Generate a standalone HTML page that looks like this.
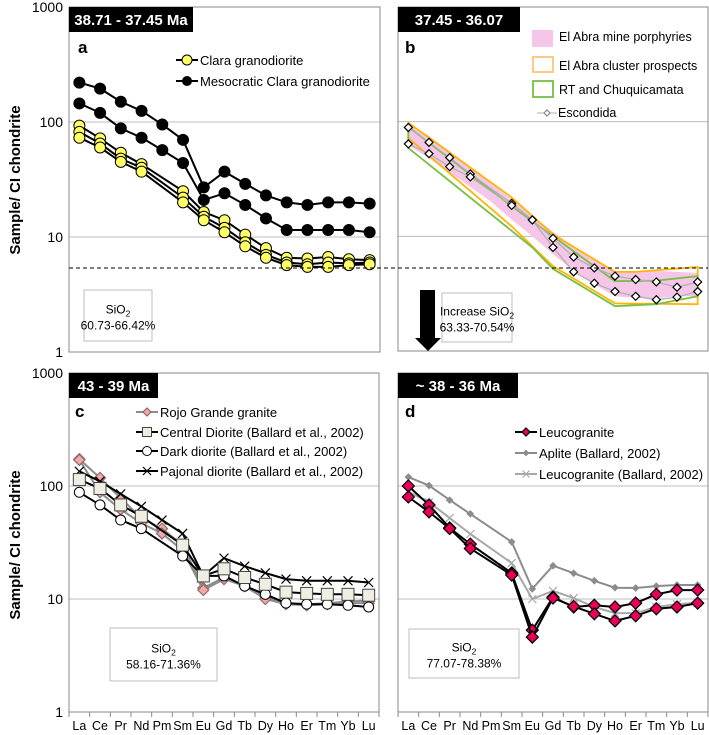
<!DOCTYPE html>
<html><head><meta charset="utf-8"><style>
body{margin:0;background:#fff;width:709px;height:735px;overflow:hidden}
svg{display:block;font-family:"Liberation Sans",sans-serif}
</style></head><body>
<svg id="chart" width="709" height="735"></svg>
<script>
const categories=["La","Ce","Pr","Nd","Pm","Sm","Eu","Gd","Tb","Dy","Ho","Er","Tm","Yb","Lu"];
const yTicks=[1,10,100,1000];
const yTickLabels=["1","10","100","1000"];
// Panel a
const aMeso1=[220,195,150,125,95,70,27,37,29,23,20,19,20,20,19.5];
const aMeso2=[145,120,88,73,57,44,21,24,19,14.5,11.5,11.5,11.5,11.5,11];
const aClara1=[93,72,54,43,null,25,16.5,14,10.5,8,6.6,6.5,6.7,6.4,6.3];
const aClara2=[82,65,48,40,null,22,15,12,9,7,6,5.8,6,5.9,6];
const aClara3=[73,60,45,37,null,20,14,11,8.3,6.6,5.7,5.5,5.5,5.7,5.8];
// Panel b
const bEsc1=[89,66,48.6,35,null,19.4,13.9,9.6,6.6,5.3,4.5,4.2,4.0,3.6,4.0];
const bEsc2=[64,52.6,40.5,33,null,18.6,13.9,8.0,4.9,3.9,3.3,3.0,2.8,2.95,3.3];
const bPinkUpper=[97,75,55,40,29,21,15,11,8,6.3,5,4.9,5,4.9,4.8];
const bPinkLower=[62,48,36,27,20,14,10,7,5,3.8,3,2.9,2.9,3,3];
const bOrangeUpper=[98,null,null,null,null,21.8,null,10.4,null,null,4.9,4.9,null,null,5.4];
const bOrangeLower=[72,null,null,null,null,12.2,null,5.5,null,null,2.6,null,null,null,2.56];
const bGreenUpper=[90,null,null,null,null,18.3,null,10,null,null,4.06,null,4.1,null,4.5];
const bGreenLower=[59,null,null,null,null,null,8,5.2,null,null,2.46,null,2.56,null,3.0];
// Panel c
const cRojo1=[173,118,78,52,42,30,12.5,15.5,13,10.5,9.2,9,9.2,9.5,9.7];
const cRojo2=[170,88,62,47,38,27,12,15,13,10,9,8.8,9,9.2,9.2];
const cCentral=[114,95,68,54,null,30,16,18.5,15.5,13.5,11.5,11.2,11,11,10.8];
const cDark=[88,68,50,42,null,24,16,16,13,11,9.2,9,9,8.8,8.5];
const cPajonal=[135,110,85,66,50,38,16,23,19.5,17,15,14.5,14.5,14.5,14];
// Panel d
const dAplite=[120,101,75,56.6,null,32,12.3,19.7,16.9,14.5,12.6,12.5,13,13.3,13.3];
const dLeucoB=[89,72,52,37.6,null,20.8,10,11.8,10.2,8.5,7.5,7.5,8.5,9,9.3];
const dLeuco1=[100,68,42.6,30.6,null,17,5.3,10.4,8.5,8.8,8.5,9.2,11,12,12];
const dLeuco2=[80,59,42,28,null,16.3,4.6,10.2,8.6,7.4,6.4,7.1,8.2,8.5,9.2];

const NS="http://www.w3.org/2000/svg";
const svg=document.getElementById('chart');
function el(tag,attrs,parent){const e=document.createElementNS(NS,tag);for(const k in attrs)e.setAttribute(k,attrs[k]);(parent||svg).appendChild(e);return e;}
function txt(x,y,s,attrs,parent){const t=el('text',Object.assign({x:x,y:y},attrs||{}),parent);t.textContent=s;return t;}

function makePanel(p){
  const g=el('g',{});
  
  
  const bw=(p.right-p.left)/categories.length;
  p.x=i=>p.left+bw*(i+0.5);
  p.y=v=>p.bottom-(Math.log10(v))*(p.bottom-p.top)/3;
  yTicks.forEach((t,i)=>{
    if(t>1&&t<1000){const l=el('line',{x1:p.left,x2:p.right,y1:p.y(t),y2:p.y(t),stroke:'#bdbdbd','stroke-width':1},g);
      }
    if(p.yLabels){const tl=txt(p.left-6,p.y(t)+5,yTickLabels[i],{'text-anchor':'end','font-size':14,fill:'#000'},g);
      }
  });
  const fr=el('rect',{x:p.left,y:p.top,width:p.right-p.left,height:p.bottom-p.top,fill:'none',stroke:'#8a8a8a','stroke-width':1},g);
  
  if(p.xLabels){
    for(let i=0;i<=categories.length;i++){el('line',{x1:p.left+bw*i,x2:p.left+bw*i,y1:p.bottom,y2:p.bottom+5,stroke:'#8a8a8a'},g);}
    categories.forEach((c,i)=>{const t=txt(p.x(i),p.bottom+18,c,{'text-anchor':'middle','font-size':12.5,fill:'#000'},g);
      });
  }
  p.g=g;return p;
}
function pathFrom(p,arr){let d='';arr.forEach((v,i)=>{if(v==null)return;d+=(d?'L':'M')+p.x(i).toFixed(1)+','+p.y(v).toFixed(1);});return d;}
function marker(g,type,x,y,fill,stroke,size){
  if(type==='circle')return el('circle',{cx:x,cy:y,r:size,fill:fill,stroke:stroke,'stroke-width':1},g);
  if(type==='diamond')return el('path',{d:`M${x},${y-size}L${x+size},${y}L${x},${y+size}L${x-size},${y}Z`,fill:fill,stroke:stroke,'stroke-width':1.2},g);
  if(type==='square')return el('rect',{x:x-size,y:y-size,width:2*size,height:2*size,fill:fill,stroke:stroke,'stroke-width':1},g);
  if(type==='x')return el('path',{d:`M${x-size},${y-size}L${x+size},${y+size}M${x-size},${y+size}L${x+size},${y-size}`,stroke:stroke,'stroke-width':1.2,fill:'none'},g);
}
function series(p,arr,o,name){
  const g=el('g',{},p.g);
  
  
  el('path',{d:pathFrom(p,arr),fill:'none',stroke:o.line,'stroke-width':o.lw||2},g);
  if(o.marker)arr.forEach((v,i)=>{if(v==null)return;marker(g,o.marker,p.x(i),p.y(v),o.fill,o.mstroke||o.line,o.size||5);});
}
function band(p,up,lo,attrs,name){
  const pts=[];
  up.forEach((v,i)=>{if(v!=null)pts.push([p.x(i),p.y(v)]);});
  const lp=[];lo.forEach((v,i)=>{if(v!=null)lp.push([p.x(i),p.y(v)]);});
  lp.reverse().forEach(q=>pts.push(q));
  const d='M'+pts.map(q=>q[0].toFixed(1)+','+q[1].toFixed(1)).join('L')+'Z';
  const e=el('path',Object.assign({d:d},attrs),p.g);
  
}
function label(p,x,w,s,letter,lx,ly){
  const r=el('rect',{x:x,y:p.top,width:w,height:25,fill:'#000'},p.g);
  
  const t=txt(x+w/2,p.top+18,s,{'text-anchor':'middle','font-size':15,'font-weight':'bold',fill:'#fff'},p.g);
  
  const l=txt(lx,ly,letter,{'font-size':17,'font-weight':'bold'},p.g);
  
}
function sio2(p,x,y,w,h,line1,val){
  const g=el('g',{},p.g);
  
  el('rect',{x:x,y:y,width:w,height:h,fill:'#fff',stroke:'#bdbdbd','stroke-width':1},g);
  const t=el('text',{x:x+w/2,y:y+h/2-2,'text-anchor':'middle','font-size':12},g);
  t.innerHTML=line1+'SiO<tspan font-size="8.5" dy="3">2</tspan>';
  txt(x+w/2,y+h/2+14,val,{'text-anchor':'middle','font-size':12},g);
}
function legendLine(g,x,y,s,o){
  el('line',{x1:x,x2:x+22,y1:y,y2:y,stroke:o.line,'stroke-width':o.lw||2},g);
  if(o.marker)marker(g,o.marker,x+11,y,o.fill,o.mstroke||o.line,o.size||5);
  txt(x+24,y+5,s,{'font-size':13},g);
}

[180,545].forEach(cy=>{const t=txt(20,cy,'Sample/ CI  chondrite',{'text-anchor':'middle','font-size':15,'font-weight':'bold',transform:`rotate(-90 20 ${cy})`});
  });

// Panel a
const A=makePanel({id:'a',left:69,right:380,top:7,bottom:352,yLabels:true});
label(A,69,124,'38.71 - 37.45 Ma','a',78,53);
series(A,aMeso1,{line:'#000',marker:'circle',fill:'#000',size:5.5},'series-mesocratic-1');
series(A,aMeso2,{line:'#000',marker:'circle',fill:'#000',size:5.5},'series-mesocratic-2');
series(A,aClara1,{line:'#000',marker:'circle',fill:'#ffff66',size:5.5,lw:2},'series-clara-1');
series(A,aClara2,{line:'#000',marker:'circle',fill:'#ffff66',size:5.5,lw:2},'series-clara-2');
series(A,aClara3,{line:'#000',marker:'circle',fill:'#ffff66',size:5.5,lw:2},'series-clara-3');
sio2(A,84,290,68,51,'','60.73-66.42%');
{const g=el('g',{},A.g);
legendLine(g,176,60,'Clara granodiorite',{line:'#000',marker:'circle',fill:'#ffff66',size:5});
legendLine(g,176,81,'Mesocratic Clara granodiorite',{line:'#000',marker:'circle',fill:'#000',size:4.5});}

// Panel b
const B=makePanel({id:'b',left:398,right:708,top:7,bottom:351});
label(B,398,122,'37.45 - 36.07','b',405,53);
band(B,bPinkUpper,bPinkLower,{fill:'#f6c6e8',stroke:'none'},'band-el-abra-mine');
band(B,bOrangeUpper,bOrangeLower,{fill:'none',stroke:'#ffb400','stroke-width':1.8},'envelope-el-abra-cluster');
band(B,bGreenUpper,bGreenLower,{fill:'none',stroke:'#77c043','stroke-width':1.8},'envelope-rt-chuquicamata');
series(B,bEsc1,{line:'#b0b0b0',lw:1.3,marker:'diamond',fill:'#fff',mstroke:'#000',size:4},'series-escondida-1');
series(B,bEsc2,{line:'#b0b0b0',lw:1.3,marker:'diamond',fill:'#fff',mstroke:'#000',size:4},'series-escondida-2');
{const g=el('g',{},B.g);
el('rect',{x:532,y:30,width:21,height:17,fill:'#f6c6e8'},g);txt(559,41,'El Abra mine porphyries',{'font-size':12.5},g);
el('rect',{x:533,y:57,width:20,height:15,fill:'none',stroke:'#ffc47a','stroke-width':1.8},g);txt(559,70,'El Abra cluster prospects',{'font-size':12.5},g);
el('rect',{x:533,y:81,width:20,height:16,fill:'none',stroke:'#77c043','stroke-width':1.8},g);txt(559,94,'RT  and Chuquicamata',{'font-size':12.5},g);
el('line',{x1:537,x2:557,y1:113,y2:113,stroke:'#b0b0b0'},g);marker(g,'diamond',547,113,'#fff','#888',3);txt(558,117,'Escondida',{'font-size':12.5},g);}
sio2(B,442,293,70,49,'Increase ','63.33-70.54%');
{const ar=el('path',{d:'M420,290L435,290L435,338L441,338L428,351L415,338L420,338Z',fill:'#000'},B.g);
}

{const d=el('line',{x1:69,x2:708,y1:268,y2:268,stroke:'#000','stroke-width':1,'stroke-dasharray':'4,3'});
}

// Panel c
const C=makePanel({id:'c',left:69,right:379,top:373,bottom:712,yLabels:true,xLabels:true});
label(C,69,89,'43 - 39 Ma','c',75,417);
series(C,cRojo1,{line:'#8c8c8c',marker:'diamond',fill:'#f4a7a7',mstroke:'#8c6b6b',size:5.5},'series-rojo-grande-1');
series(C,cRojo2,{line:'#8c8c8c',marker:'diamond',fill:'#f4a7a7',mstroke:'#8c6b6b',size:5.5},'series-rojo-grande-2');
series(C,cDark,{line:'#000',marker:'circle',fill:'#fff',size:5},'series-dark-diorite');
series(C,cPajonal,{line:'#000',marker:'x',fill:'none',size:4.5},'series-pajonal-diorite');
series(C,cCentral,{line:'#000',marker:'square',fill:'#eeeee2',mstroke:'#444',size:6},'series-central-diorite');
sio2(C,110,628,107,53,'','58.16-71.36%');
{const g=el('g',{},C.g);
legendLine(g,136,412,'Rojo Grande granite',{line:'#8c8c8c',marker:'diamond',fill:'#f4a7a7',mstroke:'#8c6b6b',size:4});
legendLine(g,136,432,'Central Diorite (Ballard et al., 2002)',{line:'#000',marker:'square',fill:'#eeeee2',mstroke:'#444',size:4.5});
legendLine(g,136,451,'Dark diorite (Ballard et al., 2002)',{line:'#000',marker:'circle',fill:'#fff',size:4.5});
legendLine(g,136,471,'Pajonal diorite (Ballard et al., 2002)',{line:'#000',marker:'x',fill:'none',size:4});}

// Panel d
const D=makePanel({id:'d',left:398,right:708,top:373,bottom:712,xLabels:true});
label(D,398,120,'~ 38 - 36 Ma','d',405,417);
series(D,dAplite,{line:'#8c8c8c',marker:'diamond',fill:'#8c8c8c',size:3},'series-aplite');
series(D,dLeucoB,{line:'#a8a8a8',marker:'x',fill:'none',size:4},'series-leucogranite-ballard');
series(D,dLeuco1,{line:'#000',marker:'diamond',fill:'#e8005a',size:6},'series-leucogranite-1');
series(D,dLeuco2,{line:'#000',marker:'diamond',fill:'#e8005a',size:6},'series-leucogranite-2');
sio2(D,409,629,110,49,'','77.07-78.38%');
{const g=el('g',{},D.g);
legendLine(g,515,432,'Leucogranite',{line:'#000',marker:'diamond',fill:'#e8005a',size:4});
legendLine(g,515,453,'Aplite (Ballard, 2002)',{line:'#8c8c8c',marker:'diamond',fill:'#8c8c8c',size:2.5});
legendLine(g,515,474,'Leucogranite (Ballard, 2002)',{line:'#a8a8a8',marker:'x',fill:'none',size:3.5});}
</script>
</body></html>
